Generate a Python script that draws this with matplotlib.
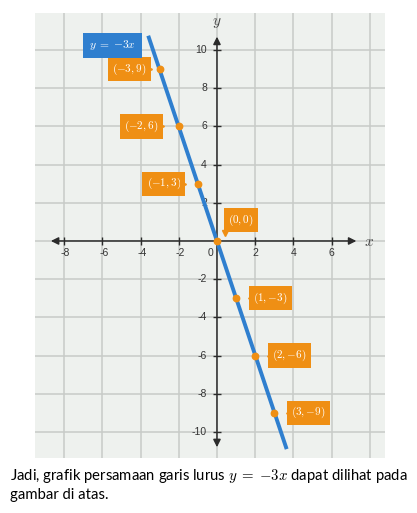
import matplotlib
matplotlib.use("Agg")
import matplotlib.pyplot as plt
from matplotlib.transforms import offset_copy

plt.rcParams['mathtext.fontset'] = 'cm'

# data
point_x = [-3, -2, -1, 0, 1, 2, 3]
point_y = [9, 6, 3, 0, -3, -6, -9]
point_labels = [r'$\mathbf{(}{-}\mathbf{3,9)}$', r'$\mathbf{(}{-}\mathbf{2,6)}$',
                r'$\mathbf{(}{-}\mathbf{1,3)}$', r'$\mathbf{(0,0)}$',
                r'$\mathbf{(1,}{-}\mathbf{3)}$', r'$\mathbf{(2,}{-}\mathbf{6)}$',
                r'$\mathbf{(3,}{-}\mathbf{9)}$']
line_x = [-3.6, 3.65]
line_y = [10.75, -10.9]
line_label = r'$y\;=\;{-3x}$'
x_ticks = [-8, -6, -4, -2, 2, 4, 6]
y_ticks = [-10, -8, -6, -4, -2, 2, 4, 6, 8, 10]
caption_1 = r'Jadi, grafik persamaan garis lurus $y\;=\;{-3x}$ dapat dilihat pada'
caption_2 = 'gambar di atas.'

# where each label box sits, relative to its point (pixels)
label_side = ['left', 'left', 'left', 'up', 'right', 'right', 'right']
label_gap = [12, 19, 16, 7, 16, 16, 16]

BG = '#eef1ee'
GRID = '#c8cbc8'
ORANGE = '#ef8f14'
BLUE = '#2f7fcf'
AXIS = '#2b2b2b'

fig = plt.figure(figsize=(4.17, 5.13), dpi=100)
ax = fig.add_axes([35/417, 1 - 457.7/513, 350/417, 444.7/513])
ax.set_facecolor(BG)
ax.set_xlim(-9.53, 8.80)
ax.set_ylim(-11.35, 11.94)
for s in ax.spines.values():
    s.set_visible(False)
ax.set_xticks([-8, -6, -4, -2, 0, 2, 4, 6, 8])
ax.set_yticks([-10, -8, -6, -4, -2, 0, 2, 4, 6, 8, 10])
ax.tick_params(length=0, labelbottom=False, labelleft=False)
ax.grid(True, color=GRID, linewidth=1.1)
ax.set_axisbelow(True)

# axes with arrows
ax.annotate('', xy=(7.3, 0), xytext=(-8.7, 0),
            arrowprops=dict(arrowstyle='<|-|>', color=AXIS, lw=1.1,
                            mutation_scale=11, shrinkA=0, shrinkB=0))
ax.annotate('', xy=(0, 10.7), xytext=(0, -10.8),
            arrowprops=dict(arrowstyle='<|-|>', color=AXIS, lw=1.1,
                            mutation_scale=11, shrinkA=0, shrinkB=0))
ax.plot(x_ticks, [0]*len(x_ticks), ls='none', marker='|', ms=6, mew=1, color=AXIS)
ax.plot([0]*len(y_ticks), y_ticks, ls='none', marker='_', ms=6, mew=1, color=AXIS)

for v in x_ticks:
    ax.annotate(str(v), (v, 0), xytext=(1.5 if v < 0 else 0, -12),
                textcoords='offset pixels', ha='center', va='center',
                fontsize=7.5, color='#333333', family='Liberation Sans')
for v in y_ticks:
    ax.annotate(str(v), (0, v), xytext=(-10, 0),
                textcoords='offset pixels', ha='right', va='center',
                fontsize=7.5, color='#333333', family='Liberation Sans')
ax.annotate('0', (0, 0), xytext=(-6, -12), textcoords='offset pixels',
            ha='center', va='center', fontsize=7.5, color='#333333',
            family='Liberation Sans')
ax.annotate(r'$x$', (7.3, 0), xytext=(13, -1), textcoords='offset pixels',
            ha='center', va='center', fontsize=11, color='#444444')
ax.annotate(r'$y$', (0, 10.7), xytext=(0, 14), textcoords='offset pixels',
            ha='center', va='center', fontsize=11, color='#444444')

# the line and its points
ax.plot(line_x, line_y, color=BLUE, lw=2.8, solid_capstyle='butt', zorder=3)
ax.plot(point_x, point_y, ls='none', marker='o', ms=4.6, color=ORANGE, zorder=4)

box = dict(boxstyle='square,pad=0.4', fc=ORANGE, ec='none')
for x, y, lab, side, gap in zip(point_x, point_y, point_labels, label_side, label_gap):
    if side == 'left':
        ax.annotate(lab, (x, y), xytext=(-gap - 1, 0), textcoords='offset pixels',
                    ha='right', va='center', fontsize=8, color='white',
                    bbox=box, zorder=5)
        tr = offset_copy(ax.transData, fig=fig, x=-gap + 1, y=0, units='dots')
        ax.plot([x], [y], marker='>', ms=4, color=ORANGE, transform=tr,
                ls='none', zorder=5)
    elif side == 'right':
        ax.annotate(lab, (x, y), xytext=(gap + 1, 0), textcoords='offset pixels',
                    ha='left', va='center', fontsize=8, color='white',
                    bbox=box, zorder=5)
        tr = offset_copy(ax.transData, fig=fig, x=gap - 1, y=0, units='dots')
        ax.plot([x], [y], marker='<', ms=4, color=ORANGE, transform=tr,
                ls='none', zorder=5)
    else:
        ax.annotate(lab, (x, y), xytext=(gap + 4, gap + 6), textcoords='offset pixels',
                    ha='left', va='bottom', fontsize=8, color='white',
                    bbox=box, zorder=5)
        tr = offset_copy(ax.transData, fig=fig, x=gap + 1, y=gap + 1, units='dots')
        ax.plot([x], [y], marker='v', ms=4, color=ORANGE, transform=tr,
                ls='none', zorder=5)

# label of the line
ax.annotate(line_label, (line_x[0], 10.25), xytext=(-12, 0),
            textcoords='offset pixels', ha='right', va='center',
            fontsize=8.3, color='white',
            bbox=dict(boxstyle='square,pad=0.5', fc=BLUE, ec='none'), zorder=5)
tr = offset_copy(ax.transData, fig=fig, x=-11, y=0, units='dots')
ax.plot([line_x[0]], [10.25], marker='>', ms=4, color=BLUE, transform=tr,
        ls='none', zorder=5)

# caption
fig.text(10/417, 1 - 480/513, caption_1, fontsize=10.7, family='Lato',
         ha='left', va='baseline')
fig.text(10/417, 1 - 499/513, caption_2, fontsize=10.7, family='Lato',
         ha='left', va='baseline')

fig.savefig('out.png', dpi=100)
